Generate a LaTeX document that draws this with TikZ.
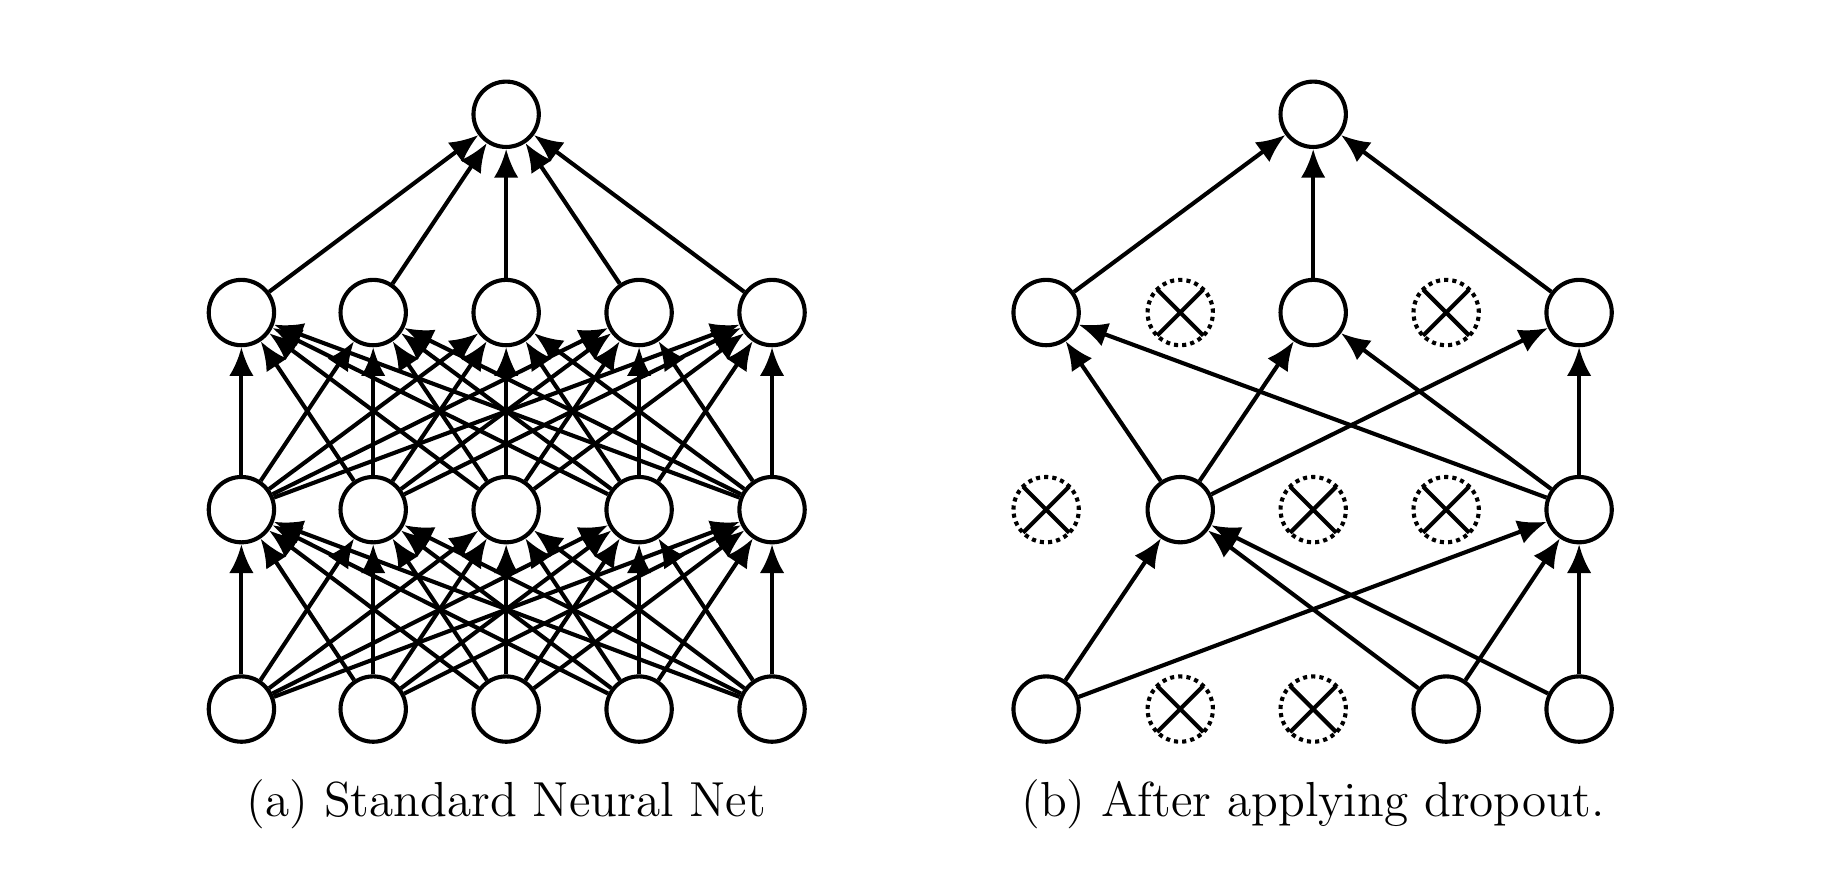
\documentclass[tikz,border=0pt]{standalone}
\usetikzlibrary{arrows.meta}
\begin{document}
\begin{tikzpicture}[x=0.01cm,y=-0.01cm,
  neuron/.style={circle,draw,line width=1pt,minimum size=0.56cm,inner sep=0pt},
  dropped/.style={circle,draw,densely dotted,line width=1pt,minimum size=0.56cm,inner sep=0pt,
    path picture={\draw[line width=1pt,solid] (path picture bounding box.north west)--(path picture bounding box.south east)
      (path picture bounding box.north east)--(path picture bounding box.south west);}},
  conn/.style={-{Latex[length=7pt,width=6pt]},line width=1pt}]
\useasboundingbox (0,0) rectangle (1570,755);
% left network
\node[neuron] (aT) at (434,98) {};
\foreach \i/\x in {1/207,2/320,3/434,4/548,5/662}{
  \node[neuron] (aA\i) at (\x,268) {};
  \node[neuron] (aB\i) at (\x,437) {};
  \node[neuron] (aC\i) at (\x,608) {};
}
\foreach \i in {1,...,5}{
  \draw[conn] (aA\i) -- (aT);
  \foreach \j in {1,...,5}{
    \draw[conn] (aB\i) -- (aA\j);
    \draw[conn] (aC\i) -- (aB\j);
  }
}
\node[font=\large] (capa) at (434,690) {(a) Standard Neural Net};
% right network
\node[neuron] (bT) at (1126,98) {};
\node[neuron] (bA1) at (897,268) {};
\node[dropped] (bA2) at (1012,268) {};
\node[neuron] (bA3) at (1126,268) {};
\node[dropped] (bA4) at (1240,268) {};
\node[neuron] (bA5) at (1354,268) {};
\node[dropped] (bB1) at (897,437) {};
\node[neuron] (bB2) at (1012,437) {};
\node[dropped] (bB3) at (1126,437) {};
\node[dropped] (bB4) at (1240,437) {};
\node[neuron] (bB5) at (1354,437) {};
\node[neuron] (bC1) at (897,608) {};
\node[dropped] (bC2) at (1012,608) {};
\node[dropped] (bC3) at (1126,608) {};
\node[neuron] (bC4) at (1240,608) {};
\node[neuron] (bC5) at (1354,608) {};
\foreach \i in {1,3,5}{\draw[conn] (bA\i) -- (bT);}
\foreach \i in {2,5}{\foreach \j in {1,3,5}{\draw[conn] (bB\i) -- (bA\j);}}
\foreach \i in {1,4,5}{\foreach \j in {2,5}{\draw[conn] (bC\i) -- (bB\j);}}
\node[font=\large] (capb) at (1126,690) {(b) After applying dropout.};
\end{tikzpicture}
\end{document}
